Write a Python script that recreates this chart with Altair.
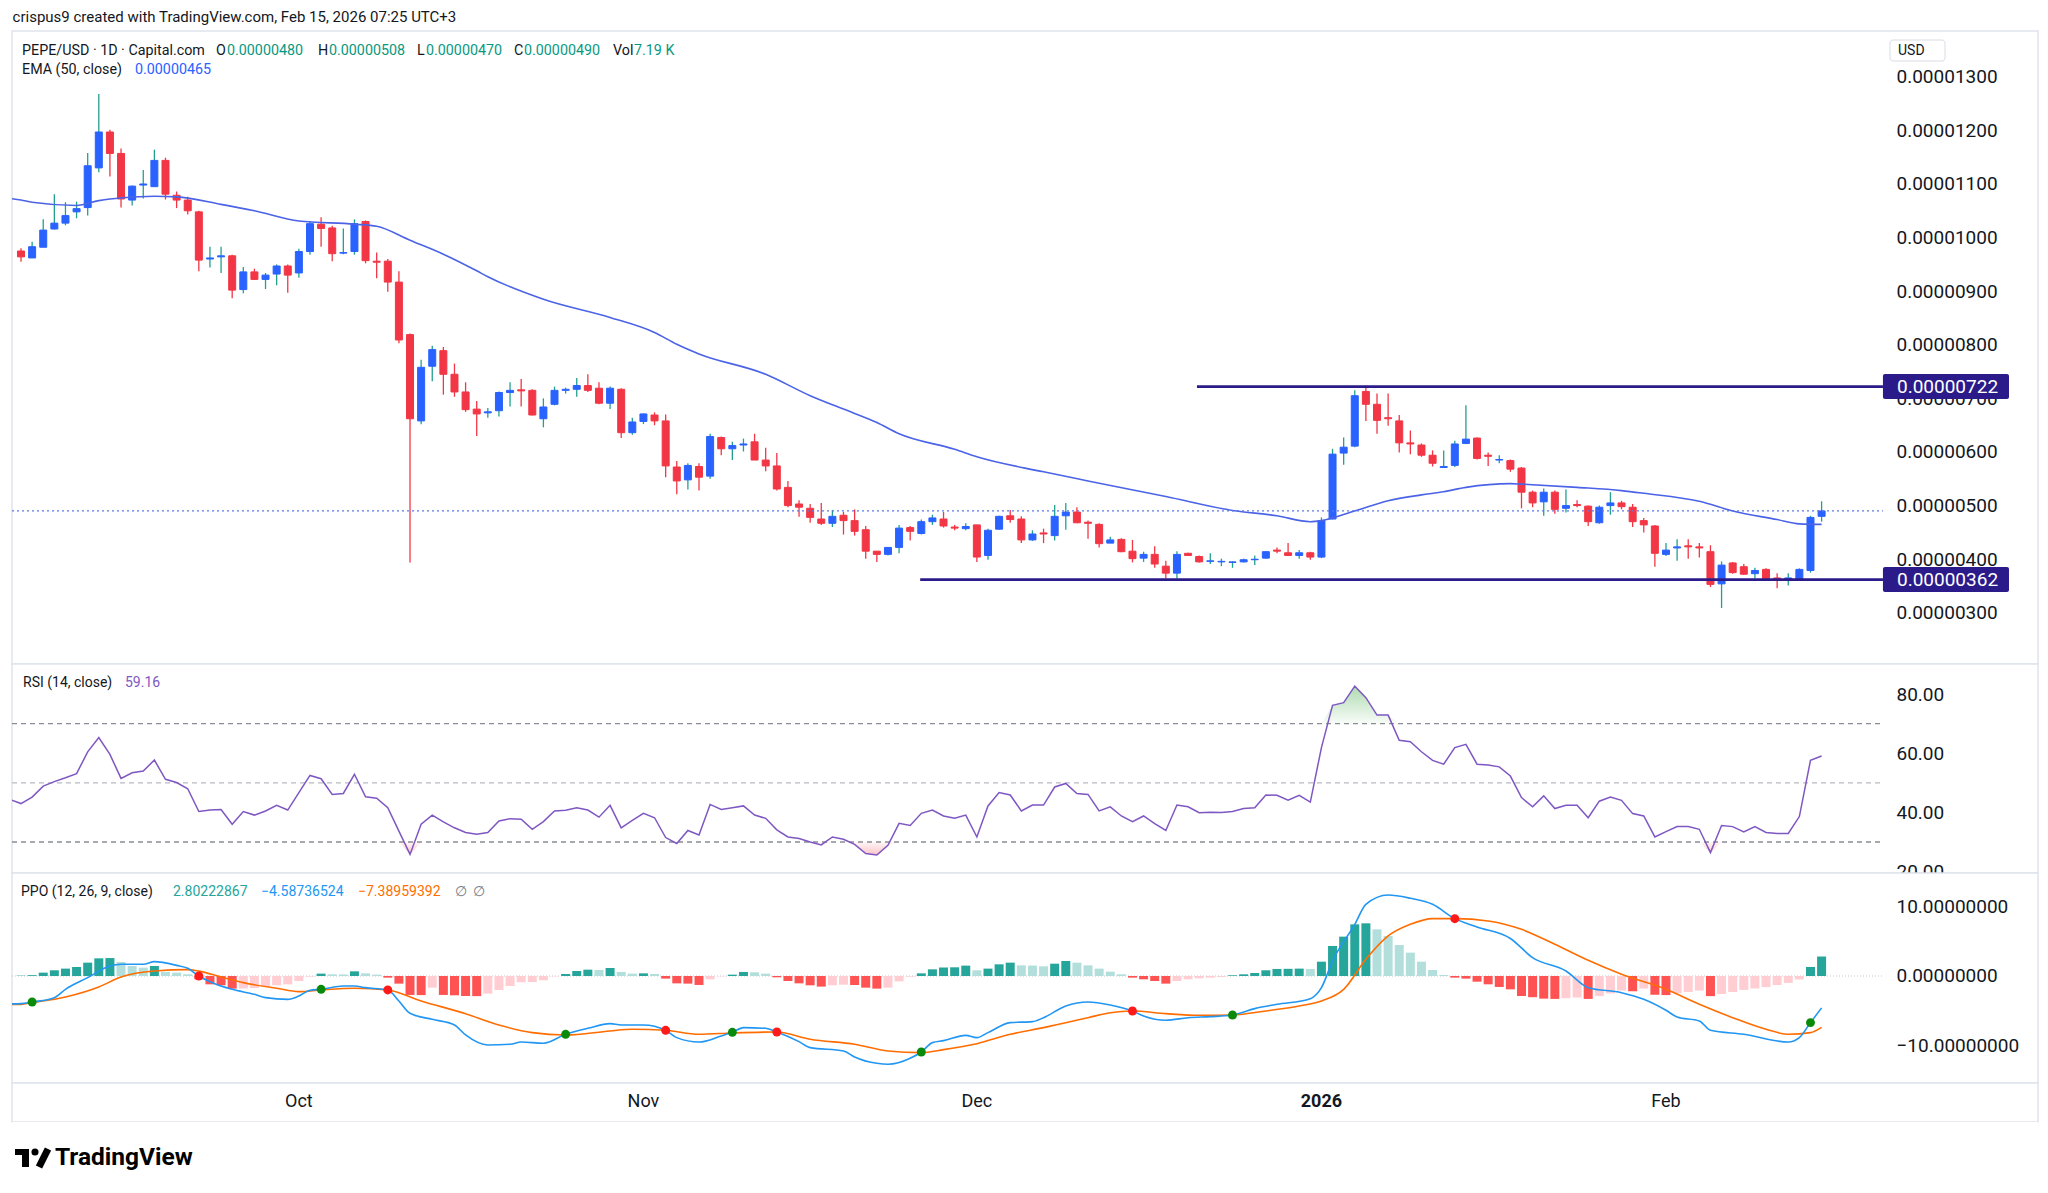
import altair as alt
import pandas as pd

# ---------------- data (prices in units of 1e-6 USD) ----------------
START_DATE = "2025-09-06"   # day 0 ; one candle per day up to 2026-02-15 (day 162)
UNIT = 1e-6

OPEN = [9.75, 9.62, 9.82, 10.16, 10.27, 10.48, 10.56, 11.30, 11.97, 11.57,
        10.70, 10.98, 10.95, 11.44, 10.79, 10.70, 10.48, 9.60, 9.64, 9.66,
        9.03, 9.36, 9.22, 9.32, 9.47, 9.34, 9.74, 10.25, 10.18, 9.71,
        9.74, 10.30, 9.56, 9.56, 9.17, 8.19, 6.58, 7.60, 7.89, 7.45,
        7.12, 6.80, 6.73, 6.77, 7.11, 7.16, 7.15, 6.62, 6.89, 7.15,
        7.17, 7.24, 7.19, 6.91, 7.17, 6.36, 6.57, 6.69, 6.58, 5.72,
        5.48, 5.73, 5.55, 6.27, 6.06, 6.13, 6.19, 5.85, 5.74, 5.34,
        5.03, 4.95, 4.75, 4.67, 4.82, 4.72, 4.55, 4.15, 4.09, 4.22,
        4.59, 4.48, 4.70, 4.75, 4.60, 4.57, 4.64, 4.07, 4.56, 4.81,
        4.75, 4.36, 4.49, 4.44, 4.81, 4.88, 4.69, 4.65, 4.30, 4.37,
        4.15, 4.02, 4.09, 3.87, 3.74, 4.11, 4.05, 3.96, 3.95, 3.94,
        3.95, 3.99, 4.02, 4.17, 4.12, 4.07, 4.12, 4.04, 4.75, 5.98,
        6.11, 7.13, 6.89, 6.64, 6.58, 6.17, 6.13, 5.94, 5.71, 5.75,
        6.16, 6.26, 5.94, 5.85, 5.84, 5.70, 5.25, 5.07, 5.25, 4.95,
        5.02, 4.99, 4.68, 5.00, 5.05, 4.97, 4.72, 4.62, 4.09, 4.21,
        4.25, 4.23, 4.14, 3.54, 3.93, 3.86, 3.73, 3.81, 3.65, 3.63,
        3.63, 3.79, 4.80]
HIGH = [9.80, 9.92, 10.34, 10.81, 10.66, 10.67, 11.58, 12.68, 12.01, 11.66,
        10.97, 11.26, 11.64, 11.49, 10.86, 10.76, 10.50, 9.83, 9.83, 9.68,
        9.45, 9.42, 9.34, 9.50, 9.50, 9.79, 10.31, 10.38, 10.22, 10.17,
        10.34, 10.32, 9.72, 9.60, 9.37, 8.21, 7.72, 7.98, 7.96, 7.65,
        7.30, 6.95, 6.82, 7.13, 7.30, 7.36, 7.17, 7.00, 7.22, 7.20,
        7.38, 7.45, 7.30, 7.22, 7.19, 6.64, 6.72, 6.74, 6.70, 5.83,
        5.79, 5.79, 6.34, 6.29, 6.19, 6.25, 6.34, 6.08, 5.98, 5.46,
        5.10, 5.03, 5.05, 4.92, 4.88, 4.93, 4.62, 4.15, 4.23, 4.64,
        4.62, 4.74, 4.83, 4.88, 4.64, 4.67, 4.64, 4.57, 4.81, 4.92,
        4.80, 4.54, 4.57, 5.01, 5.05, 4.97, 4.72, 4.67, 4.42, 4.39,
        4.36, 4.14, 4.24, 3.97, 4.15, 4.12, 4.07, 4.11, 4.01, 3.96,
        4.01, 4.07, 4.15, 4.22, 4.30, 4.17, 4.14, 4.78, 6.06, 6.27,
        7.15, 7.24, 7.09, 7.09, 6.69, 6.40, 6.16, 6.03, 6.03, 6.21,
        6.87, 6.27, 5.99, 5.94, 5.86, 5.72, 5.28, 5.32, 5.28, 5.30,
        5.10, 5.00, 5.00, 5.25, 5.09, 5.03, 4.77, 4.64, 4.30, 4.37,
        4.37, 4.30, 4.26, 3.96, 3.95, 3.91, 3.84, 3.83, 3.74, 3.74,
        3.83, 4.81, 5.08]
LOW = [9.55, 9.62, 9.82, 10.15, 10.23, 10.36, 10.41, 11.22, 11.14, 10.56,
       10.60, 10.73, 10.95, 10.71, 10.55, 10.43, 9.37, 9.44, 9.34, 8.87,
       8.96, 9.21, 9.04, 9.11, 8.97, 9.25, 9.68, 9.83, 9.56, 9.69,
       9.68, 9.52, 9.24, 8.99, 8.03, 3.94, 6.52, 7.32, 7.07, 7.03,
       6.75, 6.30, 6.64, 6.66, 6.85, 6.85, 6.68, 6.46, 6.87, 7.09,
       7.03, 7.12, 6.89, 6.80, 6.26, 6.32, 6.52, 6.50, 5.53, 5.21,
       5.30, 5.28, 5.50, 5.94, 5.85, 6.01, 5.85, 5.64, 5.28, 4.97,
       4.79, 4.68, 4.64, 4.60, 4.46, 4.44, 4.01, 3.95, 4.07, 4.11,
       4.35, 4.46, 4.64, 4.59, 4.54, 4.54, 3.95, 3.99, 4.55, 4.68,
       4.30, 4.34, 4.30, 4.35, 4.55, 4.67, 4.38, 4.22, 4.30, 4.13,
       3.94, 3.95, 3.84, 3.64, 3.64, 4.06, 3.94, 3.91, 3.87, 3.84,
       3.94, 3.89, 4.01, 4.11, 4.06, 4.01, 3.99, 4.02, 4.74, 5.76,
       6.09, 6.58, 6.34, 6.49, 5.99, 5.96, 5.91, 5.73, 5.70, 5.72,
       6.15, 5.86, 5.74, 5.79, 5.63, 4.95, 4.97, 4.81, 4.85, 4.87,
       4.97, 4.62, 4.66, 4.83, 4.93, 4.60, 4.50, 3.86, 4.06, 3.97,
       4.01, 4.03, 3.48, 3.09, 3.73, 3.71, 3.64, 3.62, 3.46, 3.51,
       3.61, 3.75, 4.70]
CLOSE = [9.64, 9.83, 10.14, 10.27, 10.41, 10.54, 11.34, 11.97, 11.57, 10.72,
         10.96, 11.00, 11.44, 10.81, 10.70, 10.50, 9.58, 9.62, 9.66, 9.02,
         9.36, 9.22, 9.30, 9.47, 9.30, 9.74, 10.26, 10.17, 9.70, 9.72,
         10.26, 9.57, 9.54, 9.17, 8.09, 6.62, 7.58, 7.91, 7.45, 7.12,
         6.79, 6.71, 6.75, 7.11, 7.15, 7.14, 6.69, 6.84, 7.15, 7.17,
         7.24, 7.15, 6.91, 7.19, 6.36, 6.56, 6.71, 6.58, 5.74, 5.46,
         5.75, 5.53, 6.29, 6.06, 6.12, 6.15, 5.85, 5.74, 5.31, 5.00,
         4.97, 4.78, 4.67, 4.80, 4.72, 4.52, 4.15, 4.09, 4.22, 4.58,
         4.52, 4.70, 4.77, 4.62, 4.58, 4.61, 4.04, 4.54, 4.80, 4.74,
         4.36, 4.47, 4.47, 4.80, 4.88, 4.68, 4.67, 4.29, 4.36, 4.14,
         4.01, 4.09, 3.91, 3.74, 4.09, 4.07, 3.95, 3.97, 3.96, 3.95,
         3.99, 4.00, 4.14, 4.15, 4.07, 4.12, 4.04, 4.72, 5.96, 6.09,
         7.05, 6.89, 6.59, 6.62, 6.17, 6.15, 5.94, 5.79, 5.73, 6.15,
         6.24, 5.88, 5.92, 5.86, 5.68, 5.25, 5.05, 5.25, 4.93, 5.00,
         5.00, 4.70, 4.97, 5.05, 4.98, 4.70, 4.64, 4.11, 4.17, 4.23,
         4.23, 4.21, 3.53, 3.89, 3.75, 3.72, 3.79, 3.64, 3.63, 3.65,
         3.81, 4.78, 4.90]

# EMA(50); day -1 is the point just left of the frame
EMA_DAYS = [-1, 0, 1, 5, 7, 8, 12, 14, 18, 21, 25, 30, 32, 35, 38, 41, 42, 47, 53, 57, 59,
            61, 67, 71, 74, 77, 79, 84, 86, 92, 96, 103, 109, 113, 116, 117, 120, 123, 126, 128, 130,
            134, 135, 140, 144, 146, 151, 154, 158, 160, 162]
EMA_VALS = [10.73, 10.70, 10.66, 10.60, 10.69, 10.72, 10.77, 10.76, 10.62, 10.50, 10.31, 10.25, 10.21, 9.95, 9.69, 9.38, 9.27, 8.85, 8.51, 8.23, 8.01,
            7.83, 7.45, 7.05, 6.80, 6.55, 6.34, 6.05, 5.91, 5.63, 5.46, 5.17, 4.91, 4.81, 4.70, 4.72, 4.90, 5.09, 5.20, 5.26, 5.34,
            5.41, 5.40, 5.34, 5.28, 5.23, 5.08, 4.90, 4.74, 4.66, 4.65]

LAST_PRICE = 4.90
LEVELS = [7.22, 3.62]
LEVEL_START_DAYS = [105.8, 80.9]

RSI_DAY_M1 = 44.4   # value on day -1 (line enters from the left frame edge)
RSI = [43.0, 45.2, 48.9, 50.4, 51.7, 53.1, 60.5, 65.3, 59.6, 51.5,
       53.4, 54.0, 57.7, 51.2, 50.1, 48.0, 40.3, 40.8, 41.0, 36.0,
       40.3, 39.1, 40.5, 42.4, 40.8, 46.7, 52.5, 51.4, 46.1, 46.4,
       52.9, 45.3, 44.8, 41.6, 33.7, 25.8, 36.0, 39.1, 36.8, 34.8,
       33.2, 32.6, 33.2, 37.1, 37.9, 37.7, 34.3, 36.9, 40.5, 40.7,
       41.6, 40.8, 38.4, 42.4, 34.8, 37.3, 39.7, 38.2, 31.5, 29.5,
       33.9, 32.4, 42.7, 41.0, 41.6, 42.2, 39.1, 38.0, 34.1, 31.7,
       31.2, 30.0, 29.0, 31.7, 30.9, 29.2, 26.1, 25.6, 28.9, 36.3,
       35.6, 39.7, 40.8, 38.8, 38.0, 39.1, 31.7, 42.2, 46.7, 45.9,
       40.5, 42.5, 42.5, 48.6, 49.8, 46.4, 46.1, 40.5, 41.9, 38.8,
       36.9, 38.8, 36.2, 33.9, 42.5, 41.9, 39.9, 40.1, 40.0, 40.3,
       41.3, 41.6, 45.9, 45.8, 44.1, 45.8, 43.5, 61.9, 76.2, 77.1,
       82.7, 78.8, 72.9, 72.9, 64.4, 63.9, 60.5, 57.6, 56.3, 61.9,
       63.0, 56.3, 56.0, 55.4, 52.3, 45.0, 41.9, 45.6, 41.3, 42.4,
       42.4, 38.2, 43.8, 45.2, 44.1, 39.6, 38.8, 31.7, 33.5, 35.2,
       35.2, 34.3, 26.4, 35.6, 35.2, 33.4, 35.2, 33.2, 32.9, 32.9,
       38.6, 57.6, 59.1]
RSI_LEVELS = [70, 50, 30]

HIST = [0.05, 0.12, 0.48, 0.82, 1.06, 1.29, 1.92, 2.54, 2.58, 2.01,
        1.44, 1.20, 1.44, 0.58, 0.48, 0.24, -0.48, -1.20, -1.34, -1.82,
        -1.80, -1.73, -1.53, -1.34, -1.20, -0.72, -0.10, 0.34, 0.24, 0.22,
        0.67, 0.38, 0.19, -0.24, -1.10, -2.73, -2.75, -1.68, -2.73, -2.78,
        -2.88, -2.90, -2.54, -2.01, -1.44, -0.90, -0.86, -0.62, -0.05, 0.29,
        0.72, 0.91, 0.86, 1.15, 0.58, 0.34, 0.38, 0.29, -0.38, -1.06,
        -1.10, -1.29, -0.48, -0.05, 0.19, 0.58, 0.53, 0.34, -0.19, -0.72,
        -1.06, -1.34, -1.53, -1.34, -1.25, -1.30, -1.68, -1.82, -1.68, -0.77,
        -0.10, 0.38, 0.96, 1.22, 1.25, 1.49, 0.82, 1.06, 1.68, 1.92,
        1.53, 1.50, 1.39, 1.77, 2.16, 1.92, 1.53, 1.06, 0.62, 0.24,
        -0.24, -0.48, -0.72, -1.10, -0.72, -0.48, -0.34, -0.24, -0.14, 0.10,
        0.24, 0.43, 0.82, 1.01, 1.03, 1.06, 1.01, 2.06, 4.32, 5.66,
        7.43, 7.58, 6.71, 5.76, 4.46, 3.36, 2.06, 0.86, 0.14, -0.24,
        -0.38, -0.82, -1.20, -1.58, -1.92, -2.88, -3.05, -3.26, -3.30, -3.20,
        -3.10, -3.30, -2.90, -2.50, -2.10, -2.20, -1.80, -2.70, -2.75, -2.50,
        -2.30, -2.10, -2.90, -2.60, -2.30, -2.00, -1.80, -1.60, -1.30, -1.00,
        -0.50, 1.30, 2.80]

PPO_DAYS = [-1, 0, 1, 3, 4, 6, 8, 9, 11, 12, 14, 15, 16, 17, 19, 21, 22, 24, 25, 26, 27,
            29, 30, 31, 33, 34, 35, 37, 39, 40, 42, 44, 45, 47, 49, 51, 53, 54, 56, 58, 59,
            61, 63, 64, 65, 67, 68, 70, 71, 74, 75, 77, 78, 80, 81, 82, 83, 85, 86, 87, 89,
            91, 92, 94, 96, 98, 100, 101, 103, 105, 107, 109, 111, 113, 116, 117, 118, 120, 121, 123, 125,
            127, 129, 131, 134, 136, 139, 141, 144, 146, 148, 149, 151, 152, 155, 159, 160, 161, 162]
PPO_VALS = [-4.02, -3.98, -3.74, -3.12, -1.92, -0.24, 1.44, 1.68, 1.68, 2.06, 1.53, 1.10, 0.0, -0.82, -1.92, -2.64, -3.12, -3.36, -2.88, -2.06, -1.92,
            -1.44, -1.44, -1.68, -2.01, -3.60, -5.37, -6.24, -7.05, -8.49, -9.93, -9.83, -9.50, -9.69, -8.39, -7.53, -6.86, -7.05, -7.05, -7.82, -8.87,
            -9.50, -8.63, -8.11, -7.43, -7.53, -8.06, -9.45, -10.31, -10.79, -11.65, -12.57, -12.71, -11.85, -10.94, -9.59, -9.30, -8.54, -8.87, -8.15, -6.71,
            -6.57, -6.00, -4.32, -3.74, -4.17, -5.04, -5.76, -6.38, -6.00, -5.85, -5.61, -4.70, -4.08, -3.26, -1.68, 2.16, 7.43, 10.31, 11.65, 11.18,
            10.31, 8.25, 7.05, 5.40, 2.64, 0.72, -1.68, -2.40, -3.36, -4.94, -5.90, -6.47, -7.82, -8.39, -9.50, -8.87, -6.71, -4.59]
SIG_DAYS = [-1, 0, 1, 4, 7, 9, 12, 15, 16, 18, 20, 23, 25, 27, 30, 33, 36, 40, 43, 46, 49,
            53, 55, 58, 61, 64, 68, 71, 75, 78, 81, 83, 86, 89, 92, 96, 98, 100, 103, 106, 109,
            112, 115, 117, 119, 121, 123, 125, 127, 129, 132, 135, 138, 141, 144, 148, 151, 154, 157, 159, 161, 162]
SIG_VALS = [-4.10, -4.08, -3.84, -3.02, -1.58, -0.14, 0.72, 0.91, 0.70, -0.14, -0.96, -1.77, -2.25, -2.01, -1.77, -2.01, -3.60, -5.42, -7.05, -8.15, -8.49,
            -7.91, -7.67, -7.82, -8.39, -8.20, -8.06, -9.11, -9.83, -10.79, -11.03, -10.60, -9.74, -8.39, -7.43, -6.00, -5.28, -5.04, -5.42, -5.66, -5.61,
            -5.04, -4.32, -3.60, -1.92, 2.40, 5.76, 7.43, 8.25, 8.25, 7.91, 6.71, 4.56, 2.25, 0.24, -1.92, -4.08, -6.00, -7.67, -8.39, -8.15, -7.39]
CROSS_DAYS = [1, 16, 27, 33, 49, 58, 64, 68, 81, 100, 109, 129, 161]
CROSS_VALS = [-3.74, 0.0, -1.92, -2.01, -8.39, -7.82, -8.11, -8.06, -10.94, -5.04, -5.61, 8.25, -6.71]
CROSS_KIND = ["bull", "bear", "bull", "bear", "bull", "bear", "bull", "bear", "bull", "bear", "bull", "bear", "bull"]

MONTH_DAYS = [25, 56, 86, 117, 148]
MONTH_LABELS = ["Oct", "Nov", "Dec", "2026", "Feb"]
MONTH_BOLD = [False, False, False, True, False]

PRICE_TICKS = [3, 4, 5, 6, 7, 8, 9, 10, 11, 12, 13]
RSI_TICKS = [20, 40, 60, 80]
PPO_TICKS = [-10, 0, 10]

# ---------------- styling / layout ----------------
FONT = "Roboto"
TXT = "#131722"
UP_BODY = "#2962FF"
UP_WICK = "#22A08F"
DOWN = "#F23645"
EMA_C = "#4B63E6"
LEVEL_C = "#2B1B8A"
W = 2026
H_PRICE, H_RSI, H_PPO, H_TIME, H_FOOT = 633, 209, 210, 39, 50
X_MIN, X_MAX = -0.81, 181.47
PLOT_END = 167.52
BOX_END = 178.86
P_MIN, P_MAX = 2.045, 13.854
AX_OFF = -155

xs = alt.Scale(domain=[X_MIN, X_MAX], nice=False, zero=False, padding=0)


def X(f="day"):
    return alt.X(f"{f}:Q", scale=xs, axis=None)


def right_axis(values, fmt):
    return alt.Axis(orient="right", offset=AX_OFF, values=values, format=fmt, grid=False,
                    domain=False, ticks=False, labelPadding=13, labelFontSize=19,
                    labelColor=TXT, labelFont=FONT, labelFlush=False, labelOverlap=False,
                    title=None)


def label(text, x, y, color=TXT, size=15, weight="normal", align="left"):
    return alt.Chart(pd.DataFrame({"t": [text]})).mark_text(
        align=align, baseline="middle", font=FONT, fontSize=size, color=color,
        fontWeight=weight).encode(x=alt.value(x), y=alt.value(y), text="t:N")


# ---------------- price pane ----------------
candles = pd.DataFrame({
    "day": list(range(len(OPEN))),
    "open": [v * UNIT for v in OPEN],
    "high": [v * UNIT for v in HIGH],
    "low": [v * UNIT for v in LOW],
    "close": [v * UNIT for v in CLOSE],
})
candles["body_c"] = [UP_BODY if c >= o else DOWN for o, c in zip(OPEN, CLOSE)]
candles["wick_c"] = [UP_WICK if c >= o else DOWN for o, c in zip(OPEN, CLOSE)]

py = alt.Scale(domain=[P_MIN * UNIT, P_MAX * UNIT], nice=False, zero=False, padding=0)
pax = right_axis([v * UNIT for v in PRICE_TICKS], ".8f")


def PY(f):
    return alt.Y(f"{f}:Q", scale=py, axis=pax)


wicks = alt.Chart(candles).mark_rule(strokeWidth=1.3).encode(
    x=X(), y=PY("low"), y2="high:Q", color=alt.Color("wick_c:N", scale=None))
bodies = alt.Chart(candles).mark_bar(size=7, strokeWidth=1).encode(
    x=X(), y=PY("open"), y2="close:Q",
    color=alt.Color("body_c:N", scale=None), stroke=alt.Stroke("body_c:N", scale=None))

ema_df = pd.DataFrame({"day": EMA_DAYS, "ema": [v * UNIT for v in EMA_VALS]})
ema = alt.Chart(ema_df).mark_line(color=EMA_C, strokeWidth=1.6, interpolate="monotone", clip=True).encode(
    x=X(), y=PY("ema"))

last_df = pd.DataFrame({"x0": [X_MIN], "x1": [PLOT_END], "p": [LAST_PRICE * UNIT]})
last_line = alt.Chart(last_df).mark_rule(color="#5B78E8", strokeDash=[2, 3], strokeWidth=1.3).encode(
    x=X("x0"), x2="x1:Q", y=PY("p"))

lvl_df = pd.DataFrame({"start": LEVEL_START_DAYS, "end": [PLOT_END] * 2,
                       "box_end": [BOX_END] * 2, "level": [v * UNIT for v in LEVELS]})
lvl_lines = alt.Chart(lvl_df).mark_rule(color=LEVEL_C, strokeWidth=2.6).encode(
    x=X("start"), x2="end:Q", y=PY("level"))
lvl_boxes = alt.Chart(lvl_df).mark_bar(color=LEVEL_C, size=25, orient="horizontal", cornerRadius=2).encode(
    x=X("end"), x2="box_end:Q", y=PY("level"))
lvl_text = alt.Chart(lvl_df).mark_text(align="left", dx=14, color="white", font=FONT, fontSize=19).encode(
    x=X("end"), y=PY("level"), text=alt.Text("level:Q", format=".8f"))

GREEN_T = "#089981"
HS = 14.3
hdr = [
    label("PEPE/USD · 1D · Capital.com", 10, 20, TXT, HS),
    label("O", 204, 20, TXT, HS), label("0.00000480", 215, 20, GREEN_T, HS),
    label("H", 306, 20, TXT, HS), label("0.00000508", 317, 20, GREEN_T, HS),
    label("L", 405, 20, TXT, HS), label("0.00000470", 414, 20, GREEN_T, HS),
    label("C", 502, 20, TXT, HS), label("0.00000490", 512, 20, GREEN_T, HS),
    label("Vol", 601, 20, TXT, HS), label("7.19 K", 622, 20, GREEN_T, HS),
    label("EMA (50, close)", 10, 39, TXT, HS), label("0.00000465", 123, 39, "#2962FF", HS),
]
usd_box = alt.Chart(pd.DataFrame({"a": [1]})).mark_rect(
    fill="white", stroke="#d9dce3", cornerRadius=3).encode(
    x=alt.value(1878), x2=alt.value(1933), y=alt.value(9), y2=alt.value(30))
usd_txt = label("USD", 1886, 20, TXT, 14)

price = alt.layer(wicks, bodies, ema, last_line, lvl_lines, lvl_boxes, lvl_text,
                  *hdr, usd_box, usd_txt).properties(width=W, height=H_PRICE)

# ---------------- RSI pane ----------------
rsi_df = pd.DataFrame({"day": [-1] + list(range(len(RSI))), "rsi": [RSI_DAY_M1] + RSI})
ry = alt.Scale(domain=[19.52, 90.18], nice=False, zero=False, padding=0)
rax = right_axis(RSI_TICKS, ".2f")

bands_df = pd.DataFrame({"x0": [X_MIN] * 3, "x1": [PLOT_END] * 3, "lvl": RSI_LEVELS,
                         "c": ["#8a8d96", "#b8bbc3", "#8a8d96"]})
bands = alt.Chart(bands_df).mark_rule(strokeDash=[5, 4], strokeWidth=1.3).encode(
    x=X("x0"), x2="x1:Q", y=alt.Y("lvl:Q", scale=ry, axis=rax),
    color=alt.Color("c:N", scale=None))
hi_fill = alt.Chart(rsi_df).transform_calculate(top="max(datum.rsi, 70)").mark_area(
    clip=True,
    color={"gradient": "linear", "x1": 0, "x2": 0, "y1": 0, "y2": 1,
           "stops": [{"offset": 0, "color": "rgba(76,175,80,0.45)"},
                     {"offset": 1, "color": "rgba(76,175,80,0.04)"}]}).encode(
    x=X(), y=alt.Y("top:Q", scale=ry, axis=rax), y2=alt.datum(70))
lo_fill = alt.Chart(rsi_df).transform_calculate(bot="min(datum.rsi, 30)").mark_area(
    clip=True,
    color={"gradient": "linear", "x1": 0, "x2": 0, "y1": 0, "y2": 1,
           "stops": [{"offset": 0, "color": "rgba(242,54,69,0.04)"},
                     {"offset": 1, "color": "rgba(242,54,69,0.30)"}]}).encode(
    x=X(), y=alt.Y("bot:Q", scale=ry, axis=rax), y2=alt.datum(30))
rsi_line = alt.Chart(rsi_df).mark_line(color="#7E57C2", strokeWidth=1.5, clip=True).encode(
    x=X(), y=alt.Y("rsi:Q", scale=ry, axis=rax))
rsi = alt.layer(bands, hi_fill, lo_fill, rsi_line,
                label("RSI (14, close)", 11, 19, TXT, 14),
                label("59.16", 113, 19, "#7E57C2", 14)).properties(width=W, height=H_RSI)

# ---------------- PPO pane ----------------
gy = alt.Scale(domain=[-15.40, 14.82], nice=False, zero=False, padding=0)
gax = right_axis(PPO_TICKS, ".8f")

hist_c = []
for k, h in enumerate(HIST):
    prev = HIST[k - 1] if k > 0 else 0
    if h >= 0:
        hist_c.append("#26A69A" if h >= prev else "#B2DFDB")
    else:
        hist_c.append("#FF5252" if h < prev else "#FFCDD2")
hist_df = pd.DataFrame({"day": list(range(len(HIST))), "hist": HIST, "c": hist_c})
zero_df = pd.DataFrame({"x0": [X_MIN], "x1": [PLOT_END], "z": [0]})
zero = alt.Chart(zero_df).mark_rule(color="#c4c7ce", strokeDash=[1, 2], strokeWidth=1.2).encode(
    x=X("x0"), x2="x1:Q", y=alt.Y("z:Q", scale=gy, axis=gax))
hist = alt.Chart(hist_df).mark_bar(size=9).encode(
    x=X(), y=alt.Y("hist:Q", scale=gy, axis=gax), y2=alt.datum(0),
    color=alt.Color("c:N", scale=None))
sig = alt.Chart(pd.DataFrame({"day": SIG_DAYS, "v": SIG_VALS})).mark_line(
    color="#FF6D00", strokeWidth=1.6, interpolate="monotone", clip=True).encode(
    x=X(), y=alt.Y("v:Q", scale=gy, axis=gax))
ppo_line = alt.Chart(pd.DataFrame({"day": PPO_DAYS, "v": PPO_VALS})).mark_line(
    color="#2196F3", strokeWidth=1.6, interpolate="monotone", clip=True).encode(
    x=X(), y=alt.Y("v:Q", scale=gy, axis=gax))
cross_df = pd.DataFrame({"day": CROSS_DAYS, "v": CROSS_VALS,
                         "c": ["#0a8a0a" if k == "bull" else "#ff1a1a" for k in CROSS_KIND]})
cross = alt.Chart(cross_df).mark_circle(size=80, opacity=1).encode(
    x=X(), y=alt.Y("v:Q", scale=gy, axis=gax), color=alt.Color("c:N", scale=None))
ppo = alt.layer(zero, hist, sig, ppo_line, cross,
                label("PPO (12, 26, 9, close)", 9, 19, TXT, 14),
                label("2.80222867", 161, 19, "#26A69A", 14),
                label("−4.58736524", 249, 19, "#2196F3", 14),
                label("−7.38959392", 346, 19, "#FF6D00", 14),
                label("∅", 443, 19, "#787B86", 14),
                label("∅", 461, 19, "#787B86", 14)).properties(width=W, height=H_PPO)

# ---------------- time axis pane ----------------
month_df = pd.DataFrame({"day": MONTH_DAYS, "lab": MONTH_LABELS, "bold": MONTH_BOLD})
m_norm = alt.Chart(month_df).transform_filter("!datum.bold").mark_text(
    font=FONT, fontSize=18, color=TXT, baseline="middle").encode(
    x=X(), y=alt.value(19), text="lab:N")
m_bold = alt.Chart(month_df).transform_filter("datum.bold").mark_text(
    font=FONT, fontSize=18, color=TXT, baseline="middle", fontWeight="bold").encode(
    x=X(), y=alt.value(19), text="lab:N")
time_pane = alt.layer(m_norm, m_bold).properties(width=W, height=H_TIME)

# ---------------- footer (logo) ----------------
one = pd.DataFrame({"a": [1]})
logo_bar = alt.Chart(one).mark_rect(color="#000000").encode(
    x=alt.value(3), x2=alt.value(17), y=alt.value(27), y2=alt.value(33))
logo_stem = alt.Chart(one).mark_rect(color="#000000").encode(
    x=alt.value(10), x2=alt.value(17), y=alt.value(27), y2=alt.value(45))
logo_dot = alt.Chart(one).mark_circle(color="#000000", size=50, opacity=1).encode(
    x=alt.value(23), y=alt.value(30))
logo_slash = alt.Chart(one).mark_rule(color="#000000", strokeWidth=7).encode(
    x=alt.value(27), x2=alt.value(36), y=alt.value(45), y2=alt.value(27))
logo_txt = label("TradingView", 43, 36, "#000000", 24.5, "bold")
footer = alt.layer(logo_bar, logo_stem, logo_dot, logo_slash, logo_txt).properties(
    width=W, height=H_FOOT, view=alt.ViewBackground(stroke="transparent"))

chart = alt.vconcat(price, rsi, ppo, time_pane, footer, spacing=0, bounds="flush").properties(
    title=alt.TitleParams("crispus9 created with TradingView.com, Feb 15, 2026 07:25 UTC+3",
                          anchor="start", fontSize=15, font=FONT, fontWeight="normal",
                          color=TXT, offset=5, dx=2),
    padding={"left": 2, "top": 2, "right": 0, "bottom": 0},
    background="white",
).configure_view(stroke="#e0e3eb", strokeWidth=1.5, fill="white")

chart.save("out.html", embed_options={"renderer": "svg", "actions": False})
